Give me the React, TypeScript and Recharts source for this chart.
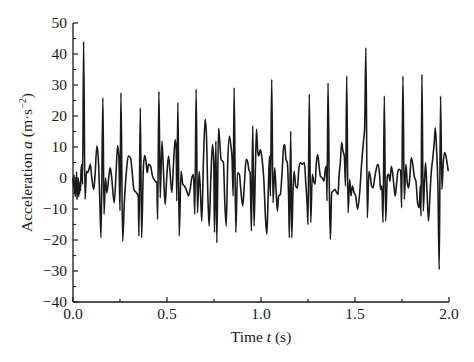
import { LineChart, Line, XAxis, YAxis, Label } from "recharts";

// time (s)
const TIME = [
  0.0, 0.003, 0.005, 0.008, 0.01, 0.012, 0.015, 0.017, 0.019, 0.021, 0.024, 0.026, 0.028, 0.03, 0.033, 0.035, 0.038, 0.04, 0.042,
  0.046, 0.051, 0.0565, 0.064, 0.072, 0.078, 0.085, 0.092, 0.099, 0.11, 0.117, 0.127, 0.134, 0.1415, 0.149, 0.159, 0.165, 0.173,
  0.18, 0.191, 0.198, 0.205, 0.219, 0.23, 0.237, 0.244, 0.25, 0.255, 0.264, 0.273, 0.285, 0.294, 0.306, 0.315, 0.324, 0.338,
  0.347, 0.3505, 0.358, 0.365, 0.374, 0.381, 0.389, 0.395, 0.402, 0.4125, 0.423, 0.437, 0.446, 0.45, 0.457, 0.464, 0.473, 0.4815,
  0.49, 0.499, 0.508, 0.515, 0.526, 0.535, 0.5435, 0.549, 0.552, 0.558, 0.565, 0.575, 0.584, 0.593, 0.6055, 0.614, 0.623, 0.632,
  0.641, 0.648, 0.655, 0.662, 0.671, 0.678, 0.685, 0.694, 0.703, 0.71, 0.717, 0.724, 0.733, 0.742, 0.749, 0.7525, 0.76, 0.765,
  0.774, 0.777, 0.788, 0.8, 0.8075, 0.815, 0.823, 0.832, 0.839, 0.846, 0.852, 0.857, 0.866, 0.875, 0.885, 0.8925, 0.903, 0.912,
  0.921, 0.928, 0.935, 0.942, 0.949, 0.956, 0.963, 0.969, 0.976, 0.983, 0.988, 0.997, 1.006, 1.015, 1.0235, 1.031, 1.038, 1.045,
  1.05, 1.057, 1.064, 1.073, 1.08, 1.087, 1.094, 1.103, 1.112, 1.121, 1.126, 1.133, 1.14, 1.1475, 1.151, 1.158, 1.1635, 1.1705,
  1.176, 1.185, 1.194, 1.201, 1.2095, 1.22, 1.231, 1.238, 1.245, 1.25, 1.257, 1.2645, 1.273, 1.28, 1.2875, 1.2945, 1.3015, 1.309,
  1.316, 1.326, 1.335, 1.342, 1.348, 1.351, 1.3565, 1.3635, 1.369, 1.376, 1.383, 1.394, 1.4025, 1.41, 1.415, 1.422, 1.429, 1.436,
  1.443, 1.45, 1.456, 1.463, 1.472, 1.479, 1.486, 1.495, 1.5035, 1.514, 1.525, 1.5355, 1.546, 1.551, 1.558, 1.5655, 1.574, 1.581,
  1.5885, 1.596, 1.606, 1.617, 1.622, 1.63, 1.636, 1.643, 1.649, 1.656, 1.663, 1.672, 1.679, 1.686, 1.693, 1.7, 1.709, 1.714,
  1.7215, 1.7285, 1.7355, 1.743, 1.748, 1.755, 1.762, 1.771, 1.778, 1.785, 1.792, 1.799, 1.8065, 1.815, 1.824, 1.833, 1.842, 1.847,
  1.851, 1.856, 1.863, 1.87, 1.8755, 1.8825, 1.891, 1.8985, 1.9055, 1.913, 1.9215, 1.927, 1.934, 1.941, 1.948, 1.955, 1.9625,
  1.9695, 1.9765, 1.9835, 1.991, 1.996,
];

// acceleration (m/s^2)
const ACCEL = [
  0, -3, 1, -5, -1, -6, 0, -4, 2, -7, -2, -5, 0, -6, -2, -5, -1, -4, 1,
  4.4, -2, 44, -6.9, 2.2, 1.7, 2.8, 4.4, 0.6, -3.7, 0.6, 10.3, 7, -4.7, -19.3, 25.9, -11.7, 0,
  -4.8, 0.6, 3.3, 0.6, -8, 2.8, 10.5, 7, -10.6, 27.5, -20.4, -8, 2.8, 7.1, 6.5, 1.7, -3.7, -4.8,
  -5.8, -18.7, 22.6, -19.3, 2.8, 7.3, 4.9, 1.7, 4.4, 3.8, 0.6, -1, -1.5, -13.3, 28, -6.4, 11.9, 1.7,
  -8.5, 0.6, 7.1, 2.8, -4.7, 5, 12.4, 9.2, -7.4, 24.3, -18.7, 2.2, -2, -2.6, -4.2, -5.8, -3.7, 0,
  1.1, -11.7, 28.6, -11.2, 2.2, -4.7, -13.9, 6, 18.9, 13.5, -4.7, -15.5, -0.5, 10.8, 4.9, -17.6, 11.9, -20.9,
  16, 14.6, 6, 5, -8, -15.5, 4.9, 13.5, 10.8, 6.5, -5.8, 29.1, -17.6, 1.7, 1.2, -3.7, -9, -1.5,
  6, 5.5, 2.8, 1.7, -17.1, 16.8, -15.5, -0.5, 15.7, 8.2, 7.1, 9.2, 6, -0.5, -12.4, -18.2, -5.8, 7.1,
  -5.8, 31.8, -8, 3.3, -3.7, -10.7, -5.8, -5.3, 1.7, 10.3, 10.8, 6, 4.9, -8, -19.3, 15.1, -19.3, -3.7,
  2.2, -2.6, -3.2, 2.8, 4.9, 4.4, 4.9, -1.5, -8, -15, 27, -14.4, 1.2, -1, -2, 4.9, 7.6, 3.8,
  0.6, 0, -1, 2.8, 3.8, -7.4, 30.7, -3.7, -19.8, -4.7, -4.2, -3.7, -4.7, -5.3, 0.6, 4.9, 11.4, 8.7,
  7.1, -2.6, 32.9, -11.2, -0.5, -5.8, -2.6, -4.7, -5.8, -10.1, -4.7, 4.9, 12.4, 15.7, 42, -12.8, 2.2, 0.6,
  -2.6, -3.2, 0.6, 3.8, 4.4, 1.7, -3.7, -2.6, -14.4, 26.4, -13.9, 0.6, 1.2, -1, 3.8, 1.7, -3.7, -5.8,
  -1.5, 2.2, 2.8, 2.2, -9.6, 32.9, -6.9, 4.4, -1.5, -3.2, 0.6, 6.5, 4.9, 0.6, -1, -8, -9.6, -2.6,
  -12.3, 33.4, -10.7, -0.5, 4.9, -3.7, -13.9, -5.8, 1.7, 6, 11.4, 16.2, 9.2, -2.6, -29.5, 26.4, -3.7,
  4.9, 8.2, 7.1, 4.4, 2.2,
];

const X_TICKS = [0, 0.25, 0.5, 0.75, 1, 1.25, 1.5, 1.75, 2];
const Y_TICKS = [-40, -35, -30, -25, -20, -15, -10, -5, 0, 5, 10, 15, 20, 25, 30, 35, 40, 45, 50];

const data = TIME.map((t, i) => ({ t, a: ACCEL[i] }));

const FONT = "'Liberation Serif', 'Times New Roman', serif";
const INK = "#1a1a1a";

function XTick(props: any) {
  const { x, y, payload } = props;
  const v = payload.value;
  const major = Math.abs(v * 2 - Math.round(v * 2)) < 1e-6;
  return (
    <g>
      <line x1={x} x2={x} y1={y} y2={y - (major ? 5 : 3)} stroke={INK} strokeWidth={1.2} />
      {major && (
        <text x={x} y={y + 17} textAnchor="middle" fontSize={15.5} fontFamily={FONT} fill={INK}>
          {v.toFixed(1)}
        </text>
      )}
    </g>
  );
}

function YTick(props: any) {
  const { x, y, payload } = props;
  const v = payload.value;
  const major = v % 10 === 0;
  return (
    <g>
      <line x1={x} x2={x + (major ? 5 : 3)} y1={y} y2={y} stroke={INK} strokeWidth={1.2} />
      {major && (
        <text x={x - 6} y={y} dy="0.35em" textAnchor="end" fontSize={15.5} fontFamily={FONT} fill={INK}>
          {v < 0 ? "\u2212" + Math.abs(v) : v}
        </text>
      )}
    </g>
  );
}

const xLabel = (props: any) => {
  const vb = props.viewBox;
  return (
    <text x={vb.x + vb.width / 2} y={vb.y + 40} textAnchor="middle" fontSize={15.5} fontFamily={FONT} fill={INK}>
      Time <tspan fontStyle="italic">t</tspan> (s)
    </text>
  );
};

const yLabel = (props: any) => {
  const vb = props.viewBox;
  const cx = vb.x + 24;
  const cy = vb.y + vb.height / 2;
  return (
    <text x={cx} y={cy} transform={`rotate(-90 ${cx} ${cy})`} textAnchor="middle" fontSize={15.5} fontFamily={FONT} fill={INK}>
      Acceleration <tspan fontStyle="italic">a</tspan> (m·s
      <tspan dy={-6} fontSize={10}>{"\u22122"}</tspan>
      <tspan dy={6}>)</tspan>
    </text>
  );
};

export default function App() {
  return (
    <div style={{ width: 458, height: 346, background: "#fff" }}>
      <LineChart width={458} height={346} data={data} margin={{ top: 15, right: 17, left: 0, bottom: 0 }}>
        <XAxis
          dataKey="t"
          type="number"
          domain={[0, 2]}
          ticks={X_TICKS}
          interval={0}
          height={52}
          tickSize={0}
          tickMargin={0}
          tickLine={false}
          tick={XTick}
          axisLine={{ stroke: INK, strokeWidth: 1.3 }}
        >
          <Label content={xLabel} />
        </XAxis>
        <YAxis
          type="number"
          domain={[-40, 50]}
          ticks={Y_TICKS}
          interval={0}
          width={65}
          tickSize={0}
          tickMargin={0}
          tickLine={false}
          tick={YTick}
          axisLine={{ stroke: INK, strokeWidth: 1.3 }}
        >
          <Label content={yLabel} />
        </YAxis>
        <Line
          dataKey="a"
          type="monotone"
          stroke={INK}
          strokeWidth={1.6}
          dot={false}
          isAnimationActive={false}
        />
      </LineChart>
    </div>
  );
}
